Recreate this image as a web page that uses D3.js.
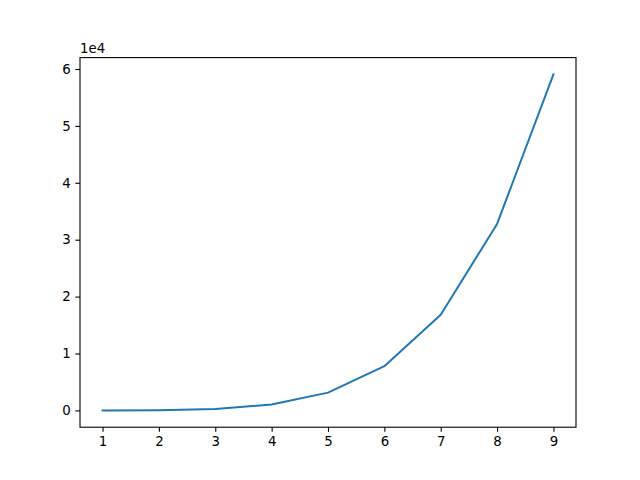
<!DOCTYPE html>
<html>
<head>
<meta charset="utf-8">
<script src="https://cdn.jsdelivr.net/npm/d3@7"></script>
<style>
  body { margin: 0; background: #fff; }
  text { font-family: "DejaVu Sans", sans-serif; font-size: 13.33px; fill: #000; }
</style>
</head>
<body>
<svg id="chart" width="640" height="480"></svg>
<script>
// data
var xs = [1, 2, 3, 4, 5, 6, 7, 8, 9];
var ys = [1, 32, 243, 1024, 3125, 7776, 16807, 32768, 59049];
var xTicks = [1, 2, 3, 4, 5, 6, 7, 8, 9];
var yTicks = [0, 10000, 20000, 30000, 40000, 50000, 60000];

var svg = d3.select("#chart");
// axes box (note: "top" is a reserved window global, so use other names)
var axLeft = 80, axRight = 576, axTop = 57.6, axBottom = 427.2;

// matplotlib style 5% margins
var xpad = (d3.max(xs) - d3.min(xs)) * 0.05;
var ypad = (d3.max(ys) - d3.min(ys)) * 0.05;
var x = d3.scaleLinear().domain([d3.min(xs) - xpad, d3.max(xs) + xpad]).range([axLeft, axRight]);
var y = d3.scaleLinear().domain([d3.min(ys) - ypad, d3.max(ys) + ypad]).range([axBottom, axTop]);

var xAxis = svg.append("g")
    .attr("transform", "translate(0," + axBottom + ")")
    .call(d3.axisBottom(x).tickValues(xTicks).tickSize(4.67).tickPadding(4.67)
        .tickFormat(d3.format("d")));
var yAxis = svg.append("g")
    .attr("transform", "translate(" + axLeft + ",0)")
    .call(d3.axisLeft(y).tickValues(yTicks).tickSize(4.67).tickPadding(4.67)
        .tickFormat(function (d) { return d / 10000; }));

[xAxis, yAxis].forEach(function (g) {
    g.select(".domain").remove();
    g.selectAll("line").attr("stroke", "#000").attr("stroke-width", 1.1);
    g.selectAll("text").attr("font-family", "DejaVu Sans").attr("font-size", 13.33).attr("fill", "#000");
});

// offset label
svg.append("text")
    .attr("x", axLeft)
    .attr("y", axTop - 5)
    .text("1e4");

var line = d3.line()
    .x(function (d, i) { return x(xs[i]); })
    .y(function (d) { return y(d); });

svg.append("path")
    .datum(ys)
    .attr("d", line)
    .attr("fill", "none")
    .attr("stroke", "#1f77b4")
    .attr("stroke-width", 2)
    .attr("stroke-linecap", "square")
    .attr("stroke-linejoin", "round");

// axes frame
svg.append("rect")
    .attr("x", axLeft).attr("y", axTop)
    .attr("width", axRight - axLeft).attr("height", axBottom - axTop)
    .attr("fill", "none")
    .attr("stroke", "#000")
    .attr("stroke-width", 1.1);
</script>
</body>
</html>
